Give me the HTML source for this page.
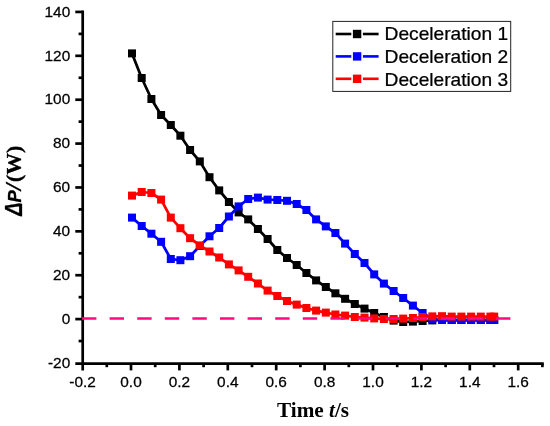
<!DOCTYPE html>
<html><head><meta charset="utf-8"><title>Chart</title>
<style>html,body{margin:0;padding:0;background:#fff}svg{display:block}</style></head>
<body>
<svg width="550" height="426" viewBox="0 0 550 426">
<rect width="550" height="426" fill="#fff"/>
<g stroke="#000" stroke-width="2.7" fill="none" stroke-linecap="butt">
<line x1="82.7" y1="10.59" x2="82.7" y2="370.4"/>
<line x1="75.3" y1="363.6" x2="543.75" y2="363.6"/>
<line x1="106.80" y1="363.6" x2="106.80" y2="367.2"/>
<line x1="131.00" y1="363.6" x2="131.00" y2="370.4"/>
<line x1="155.20" y1="363.6" x2="155.20" y2="367.2"/>
<line x1="179.40" y1="363.6" x2="179.40" y2="370.4"/>
<line x1="203.60" y1="363.6" x2="203.60" y2="367.2"/>
<line x1="227.80" y1="363.6" x2="227.80" y2="370.4"/>
<line x1="252.00" y1="363.6" x2="252.00" y2="367.2"/>
<line x1="276.20" y1="363.6" x2="276.20" y2="370.4"/>
<line x1="300.40" y1="363.6" x2="300.40" y2="367.2"/>
<line x1="324.60" y1="363.6" x2="324.60" y2="370.4"/>
<line x1="348.80" y1="363.6" x2="348.80" y2="367.2"/>
<line x1="373.00" y1="363.6" x2="373.00" y2="370.4"/>
<line x1="397.20" y1="363.6" x2="397.20" y2="367.2"/>
<line x1="421.40" y1="363.6" x2="421.40" y2="370.4"/>
<line x1="445.60" y1="363.6" x2="445.60" y2="367.2"/>
<line x1="469.80" y1="363.6" x2="469.80" y2="370.4"/>
<line x1="494.00" y1="363.6" x2="494.00" y2="367.2"/>
<line x1="518.20" y1="363.6" x2="518.20" y2="370.4"/>
<line x1="542.40" y1="363.6" x2="542.40" y2="367.2"/>
<line x1="78.6" y1="341.04" x2="82.7" y2="341.04"/>
<line x1="75.3" y1="319.10" x2="82.7" y2="319.10"/>
<line x1="78.6" y1="297.16" x2="82.7" y2="297.16"/>
<line x1="75.3" y1="275.22" x2="82.7" y2="275.22"/>
<line x1="78.6" y1="253.28" x2="82.7" y2="253.28"/>
<line x1="75.3" y1="231.34" x2="82.7" y2="231.34"/>
<line x1="78.6" y1="209.40" x2="82.7" y2="209.40"/>
<line x1="75.3" y1="187.46" x2="82.7" y2="187.46"/>
<line x1="78.6" y1="165.52" x2="82.7" y2="165.52"/>
<line x1="75.3" y1="143.58" x2="82.7" y2="143.58"/>
<line x1="78.6" y1="121.64" x2="82.7" y2="121.64"/>
<line x1="75.3" y1="99.70" x2="82.7" y2="99.70"/>
<line x1="78.6" y1="77.76" x2="82.7" y2="77.76"/>
<line x1="75.3" y1="55.82" x2="82.7" y2="55.82"/>
<line x1="78.6" y1="33.88" x2="82.7" y2="33.88"/>
<line x1="75.3" y1="11.94" x2="82.7" y2="11.94"/>
</g>
<g font-family="Liberation Sans, Arial, sans-serif" font-size="14.4" fill="#000" stroke="#000" stroke-width="0.25">
<text transform="translate(82.60,387.0) scale(1.07,1)" text-anchor="middle">-0.2</text>
<text transform="translate(131.00,387.0) scale(1.07,1)" text-anchor="middle">0.0</text>
<text transform="translate(179.40,387.0) scale(1.07,1)" text-anchor="middle">0.2</text>
<text transform="translate(227.80,387.0) scale(1.07,1)" text-anchor="middle">0.4</text>
<text transform="translate(276.20,387.0) scale(1.07,1)" text-anchor="middle">0.6</text>
<text transform="translate(324.60,387.0) scale(1.07,1)" text-anchor="middle">0.8</text>
<text transform="translate(373.00,387.0) scale(1.07,1)" text-anchor="middle">1.0</text>
<text transform="translate(421.40,387.0) scale(1.07,1)" text-anchor="middle">1.2</text>
<text transform="translate(469.80,387.0) scale(1.07,1)" text-anchor="middle">1.4</text>
<text transform="translate(518.20,387.0) scale(1.07,1)" text-anchor="middle">1.6</text>
<text transform="translate(70.2,367.68) scale(1.07,1)" text-anchor="end">-20</text>
<text transform="translate(70.2,323.80) scale(1.07,1)" text-anchor="end">0</text>
<text transform="translate(70.2,279.92) scale(1.07,1)" text-anchor="end">20</text>
<text transform="translate(70.2,236.04) scale(1.07,1)" text-anchor="end">40</text>
<text transform="translate(70.2,192.16) scale(1.07,1)" text-anchor="end">60</text>
<text transform="translate(70.2,148.28) scale(1.07,1)" text-anchor="end">80</text>
<text transform="translate(70.2,104.40) scale(1.07,1)" text-anchor="end">100</text>
<text transform="translate(70.2,60.52) scale(1.07,1)" text-anchor="end">120</text>
<text transform="translate(70.2,16.64) scale(1.07,1)" text-anchor="end">140</text>
</g>
<polyline points="132.0,53.4 141.7,78.0 151.4,99.0 161.1,115.0 170.8,125.0 180.4,135.7 190.1,150.0 199.8,161.4 209.5,177.2 219.2,190.4 228.9,202.0 238.6,212.4 248.2,219.4 257.9,229.0 267.6,239.0 277.3,250.0 287.0,258.0 296.7,265.0 306.4,273.0 316.1,280.4 325.8,287.0 335.4,293.3 345.1,298.8 354.8,304.0 364.5,308.6 374.2,313.0 383.9,317.0 393.6,320.6 403.2,322.0 412.9,321.6 422.6,321.0 432.3,320.4 442.0,320.0 451.7,320.0 461.4,320.0 471.1,320.0 480.8,320.0 490.4,320.0 494.2,320.0" fill="none" stroke="#000000" stroke-width="2.75" stroke-linejoin="round"/>
<rect x="128.0" y="49.4" width="8.0" height="8.0" fill="#000000"/><rect x="137.7" y="74.0" width="8.0" height="8.0" fill="#000000"/><rect x="147.4" y="95.0" width="8.0" height="8.0" fill="#000000"/><rect x="157.1" y="111.0" width="8.0" height="8.0" fill="#000000"/><rect x="166.8" y="121.0" width="8.0" height="8.0" fill="#000000"/><rect x="176.4" y="131.7" width="8.0" height="8.0" fill="#000000"/><rect x="186.1" y="146.0" width="8.0" height="8.0" fill="#000000"/><rect x="195.8" y="157.4" width="8.0" height="8.0" fill="#000000"/><rect x="205.5" y="173.2" width="8.0" height="8.0" fill="#000000"/><rect x="215.2" y="186.4" width="8.0" height="8.0" fill="#000000"/><rect x="224.9" y="198.0" width="8.0" height="8.0" fill="#000000"/><rect x="234.6" y="208.4" width="8.0" height="8.0" fill="#000000"/><rect x="244.2" y="215.4" width="8.0" height="8.0" fill="#000000"/><rect x="253.9" y="225.0" width="8.0" height="8.0" fill="#000000"/><rect x="263.6" y="235.0" width="8.0" height="8.0" fill="#000000"/><rect x="273.3" y="246.0" width="8.0" height="8.0" fill="#000000"/><rect x="283.0" y="254.0" width="8.0" height="8.0" fill="#000000"/><rect x="292.7" y="261.0" width="8.0" height="8.0" fill="#000000"/><rect x="302.4" y="269.0" width="8.0" height="8.0" fill="#000000"/><rect x="312.1" y="276.4" width="8.0" height="8.0" fill="#000000"/><rect x="321.8" y="283.0" width="8.0" height="8.0" fill="#000000"/><rect x="331.4" y="289.3" width="8.0" height="8.0" fill="#000000"/><rect x="341.1" y="294.8" width="8.0" height="8.0" fill="#000000"/><rect x="350.8" y="300.0" width="8.0" height="8.0" fill="#000000"/><rect x="360.5" y="304.6" width="8.0" height="8.0" fill="#000000"/><rect x="370.2" y="309.0" width="8.0" height="8.0" fill="#000000"/><rect x="379.9" y="313.0" width="8.0" height="8.0" fill="#000000"/><rect x="389.6" y="316.6" width="8.0" height="8.0" fill="#000000"/><rect x="399.2" y="318.0" width="8.0" height="8.0" fill="#000000"/><rect x="408.9" y="317.6" width="8.0" height="8.0" fill="#000000"/><rect x="418.6" y="317.0" width="8.0" height="8.0" fill="#000000"/><rect x="428.3" y="316.4" width="8.0" height="8.0" fill="#000000"/><rect x="438.0" y="316.0" width="8.0" height="8.0" fill="#000000"/><rect x="447.7" y="316.0" width="8.0" height="8.0" fill="#000000"/><rect x="457.4" y="316.0" width="8.0" height="8.0" fill="#000000"/><rect x="467.1" y="316.0" width="8.0" height="8.0" fill="#000000"/><rect x="476.8" y="316.0" width="8.0" height="8.0" fill="#000000"/><rect x="486.4" y="316.0" width="8.0" height="8.0" fill="#000000"/><rect x="490.2" y="316.0" width="8.0" height="8.0" fill="#000000"/>

<polyline points="132.0,217.6 141.7,226.0 151.4,233.7 161.1,241.8 170.8,259.0 180.4,260.2 190.1,256.2 199.8,246.0 209.5,236.3 219.2,228.0 228.9,216.5 238.6,206.4 248.2,199.0 257.9,197.6 267.6,199.6 277.3,200.0 287.0,200.8 296.7,204.0 306.4,210.0 316.1,219.4 325.8,226.4 335.4,233.0 345.1,243.6 354.8,254.0 364.5,263.0 374.2,274.4 383.9,283.6 393.6,291.0 403.2,298.0 412.9,305.6 422.6,313.0 432.3,319.0 442.0,320.0 451.7,320.0 461.4,320.0 471.1,320.0 480.8,320.0 490.4,320.0 494.2,320.0" fill="none" stroke="#0000ff" stroke-width="2.75" stroke-linejoin="round"/>
<rect x="128.0" y="213.6" width="8.0" height="8.0" fill="#0000ff"/><rect x="137.7" y="222.0" width="8.0" height="8.0" fill="#0000ff"/><rect x="147.4" y="229.7" width="8.0" height="8.0" fill="#0000ff"/><rect x="157.1" y="237.8" width="8.0" height="8.0" fill="#0000ff"/><rect x="166.8" y="255.0" width="8.0" height="8.0" fill="#0000ff"/><rect x="176.4" y="256.2" width="8.0" height="8.0" fill="#0000ff"/><rect x="186.1" y="252.2" width="8.0" height="8.0" fill="#0000ff"/><rect x="195.8" y="242.0" width="8.0" height="8.0" fill="#0000ff"/><rect x="205.5" y="232.3" width="8.0" height="8.0" fill="#0000ff"/><rect x="215.2" y="224.0" width="8.0" height="8.0" fill="#0000ff"/><rect x="224.9" y="212.5" width="8.0" height="8.0" fill="#0000ff"/><rect x="234.6" y="202.4" width="8.0" height="8.0" fill="#0000ff"/><rect x="244.2" y="195.0" width="8.0" height="8.0" fill="#0000ff"/><rect x="253.9" y="193.6" width="8.0" height="8.0" fill="#0000ff"/><rect x="263.6" y="195.6" width="8.0" height="8.0" fill="#0000ff"/><rect x="273.3" y="196.0" width="8.0" height="8.0" fill="#0000ff"/><rect x="283.0" y="196.8" width="8.0" height="8.0" fill="#0000ff"/><rect x="292.7" y="200.0" width="8.0" height="8.0" fill="#0000ff"/><rect x="302.4" y="206.0" width="8.0" height="8.0" fill="#0000ff"/><rect x="312.1" y="215.4" width="8.0" height="8.0" fill="#0000ff"/><rect x="321.8" y="222.4" width="8.0" height="8.0" fill="#0000ff"/><rect x="331.4" y="229.0" width="8.0" height="8.0" fill="#0000ff"/><rect x="341.1" y="239.6" width="8.0" height="8.0" fill="#0000ff"/><rect x="350.8" y="250.0" width="8.0" height="8.0" fill="#0000ff"/><rect x="360.5" y="259.0" width="8.0" height="8.0" fill="#0000ff"/><rect x="370.2" y="270.4" width="8.0" height="8.0" fill="#0000ff"/><rect x="379.9" y="279.6" width="8.0" height="8.0" fill="#0000ff"/><rect x="389.6" y="287.0" width="8.0" height="8.0" fill="#0000ff"/><rect x="399.2" y="294.0" width="8.0" height="8.0" fill="#0000ff"/><rect x="408.9" y="301.6" width="8.0" height="8.0" fill="#0000ff"/><rect x="418.6" y="309.0" width="8.0" height="8.0" fill="#0000ff"/><rect x="428.3" y="315.0" width="8.0" height="8.0" fill="#0000ff"/><rect x="438.0" y="316.0" width="8.0" height="8.0" fill="#0000ff"/><rect x="447.7" y="316.0" width="8.0" height="8.0" fill="#0000ff"/><rect x="457.4" y="316.0" width="8.0" height="8.0" fill="#0000ff"/><rect x="467.1" y="316.0" width="8.0" height="8.0" fill="#0000ff"/><rect x="476.8" y="316.0" width="8.0" height="8.0" fill="#0000ff"/><rect x="486.4" y="316.0" width="8.0" height="8.0" fill="#0000ff"/><rect x="490.2" y="316.0" width="8.0" height="8.0" fill="#0000ff"/>

<polyline points="132.0,195.6 141.7,192.0 151.4,193.0 161.1,199.6 170.8,217.6 180.4,228.2 190.1,238.2 199.8,245.4 209.5,251.5 219.2,257.5 228.9,264.4 238.6,270.4 248.2,276.8 257.9,283.5 267.6,290.6 277.3,296.0 287.0,301.0 296.7,304.6 306.4,308.0 316.1,310.6 325.8,312.6 335.4,314.5 345.1,315.6 354.8,317.0 364.5,317.6 374.2,318.4 383.9,319.0 393.6,319.0 403.2,318.6 412.9,318.0 422.6,317.0 432.3,316.4 442.0,316.2 451.7,316.6 461.4,316.6 471.1,316.6 480.8,316.6 490.4,316.6 494.2,316.6" fill="none" stroke="#ff0000" stroke-width="2.75" stroke-linejoin="round"/>
<rect x="128.0" y="191.6" width="8.0" height="8.0" fill="#ff0000"/><rect x="137.7" y="188.0" width="8.0" height="8.0" fill="#ff0000"/><rect x="147.4" y="189.0" width="8.0" height="8.0" fill="#ff0000"/><rect x="157.1" y="195.6" width="8.0" height="8.0" fill="#ff0000"/><rect x="166.8" y="213.6" width="8.0" height="8.0" fill="#ff0000"/><rect x="176.4" y="224.2" width="8.0" height="8.0" fill="#ff0000"/><rect x="186.1" y="234.2" width="8.0" height="8.0" fill="#ff0000"/><rect x="195.8" y="241.4" width="8.0" height="8.0" fill="#ff0000"/><rect x="205.5" y="247.5" width="8.0" height="8.0" fill="#ff0000"/><rect x="215.2" y="253.5" width="8.0" height="8.0" fill="#ff0000"/><rect x="224.9" y="260.4" width="8.0" height="8.0" fill="#ff0000"/><rect x="234.6" y="266.4" width="8.0" height="8.0" fill="#ff0000"/><rect x="244.2" y="272.8" width="8.0" height="8.0" fill="#ff0000"/><rect x="253.9" y="279.5" width="8.0" height="8.0" fill="#ff0000"/><rect x="263.6" y="286.6" width="8.0" height="8.0" fill="#ff0000"/><rect x="273.3" y="292.0" width="8.0" height="8.0" fill="#ff0000"/><rect x="283.0" y="297.0" width="8.0" height="8.0" fill="#ff0000"/><rect x="292.7" y="300.6" width="8.0" height="8.0" fill="#ff0000"/><rect x="302.4" y="304.0" width="8.0" height="8.0" fill="#ff0000"/><rect x="312.1" y="306.6" width="8.0" height="8.0" fill="#ff0000"/><rect x="321.8" y="308.6" width="8.0" height="8.0" fill="#ff0000"/><rect x="331.4" y="310.5" width="8.0" height="8.0" fill="#ff0000"/><rect x="341.1" y="311.6" width="8.0" height="8.0" fill="#ff0000"/><rect x="350.8" y="313.0" width="8.0" height="8.0" fill="#ff0000"/><rect x="360.5" y="313.6" width="8.0" height="8.0" fill="#ff0000"/><rect x="370.2" y="314.4" width="8.0" height="8.0" fill="#ff0000"/><rect x="379.9" y="315.0" width="8.0" height="8.0" fill="#ff0000"/><rect x="389.6" y="315.0" width="8.0" height="8.0" fill="#ff0000"/><rect x="399.2" y="314.6" width="8.0" height="8.0" fill="#ff0000"/><rect x="408.9" y="314.0" width="8.0" height="8.0" fill="#ff0000"/><rect x="418.6" y="313.0" width="8.0" height="8.0" fill="#ff0000"/><rect x="428.3" y="312.4" width="8.0" height="8.0" fill="#ff0000"/><rect x="438.0" y="312.2" width="8.0" height="8.0" fill="#ff0000"/><rect x="447.7" y="312.6" width="8.0" height="8.0" fill="#ff0000"/><rect x="457.4" y="312.6" width="8.0" height="8.0" fill="#ff0000"/><rect x="467.1" y="312.6" width="8.0" height="8.0" fill="#ff0000"/><rect x="476.8" y="312.6" width="8.0" height="8.0" fill="#ff0000"/><rect x="486.4" y="312.6" width="8.0" height="8.0" fill="#ff0000"/><rect x="490.2" y="312.6" width="8.0" height="8.0" fill="#ff0000"/>

<line x1="82.0" y1="318.5" x2="510.4" y2="318.5" stroke="#ff0a80" stroke-width="2.6" stroke-dasharray="14.4 13.2"/>
<rect x="332.8" y="21.4" width="177.9" height="70" fill="#fff" stroke="#222" stroke-width="1"/>
<line x1="335.7" y1="34.00" x2="351.3" y2="34.00" stroke="#000000" stroke-width="2.6"/>
<line x1="362.9" y1="34.00" x2="378.6" y2="34.00" stroke="#000000" stroke-width="2.6"/>
<rect x="352.9" y="29.80" width="8.4" height="8.4" fill="#000000"/>
<text transform="translate(384.6,39.60) scale(1.065,1)" font-family="Liberation Sans, Arial, sans-serif" font-size="18" fill="#000" stroke="#000" stroke-width="0.25">Deceleration 1</text>
<line x1="335.7" y1="56.40" x2="351.3" y2="56.40" stroke="#0000ff" stroke-width="2.6"/>
<line x1="362.9" y1="56.40" x2="378.6" y2="56.40" stroke="#0000ff" stroke-width="2.6"/>
<rect x="352.9" y="52.20" width="8.4" height="8.4" fill="#0000ff"/>
<text transform="translate(384.6,62.55) scale(1.065,1)" font-family="Liberation Sans, Arial, sans-serif" font-size="18" fill="#000" stroke="#000" stroke-width="0.25">Deceleration 2</text>
<line x1="335.7" y1="78.80" x2="351.3" y2="78.80" stroke="#ff0000" stroke-width="2.6"/>
<line x1="362.9" y1="78.80" x2="378.6" y2="78.80" stroke="#ff0000" stroke-width="2.6"/>
<rect x="352.9" y="74.60" width="8.4" height="8.4" fill="#ff0000"/>
<text transform="translate(384.6,85.50) scale(1.065,1)" font-family="Liberation Sans, Arial, sans-serif" font-size="18" fill="#000" stroke="#000" stroke-width="0.25">Deceleration 3</text>
<text transform="translate(277.0,416.7) scale(1.02,1)" font-family="Liberation Serif, Times New Roman, serif" font-weight="bold" font-size="20.8" fill="#000">Time <tspan font-style="italic">t</tspan>/s</text>
<g transform="translate(20.9,216.0) rotate(-90)" fill="#000" font-weight="bold" stroke="#000" stroke-width="0.3">
<text transform="translate(0.2,0.9) scale(0.84,1)" font-family="Liberation Sans, Arial, sans-serif" font-style="italic" font-size="23.3">Δ</text>
<text x="13.6" y="-0.4" font-family="Liberation Sans, Arial, sans-serif" font-style="italic" font-size="18.4">P<tspan x="26.0" y="0" font-family="Liberation Serif, Times New Roman, serif" font-size="23">/</tspan><tspan x="34.0" y="0" font-family="Liberation Serif, Times New Roman, serif" font-style="normal" font-size="21.8">(W)</tspan></text>
</g>
</svg>
</body></html>
